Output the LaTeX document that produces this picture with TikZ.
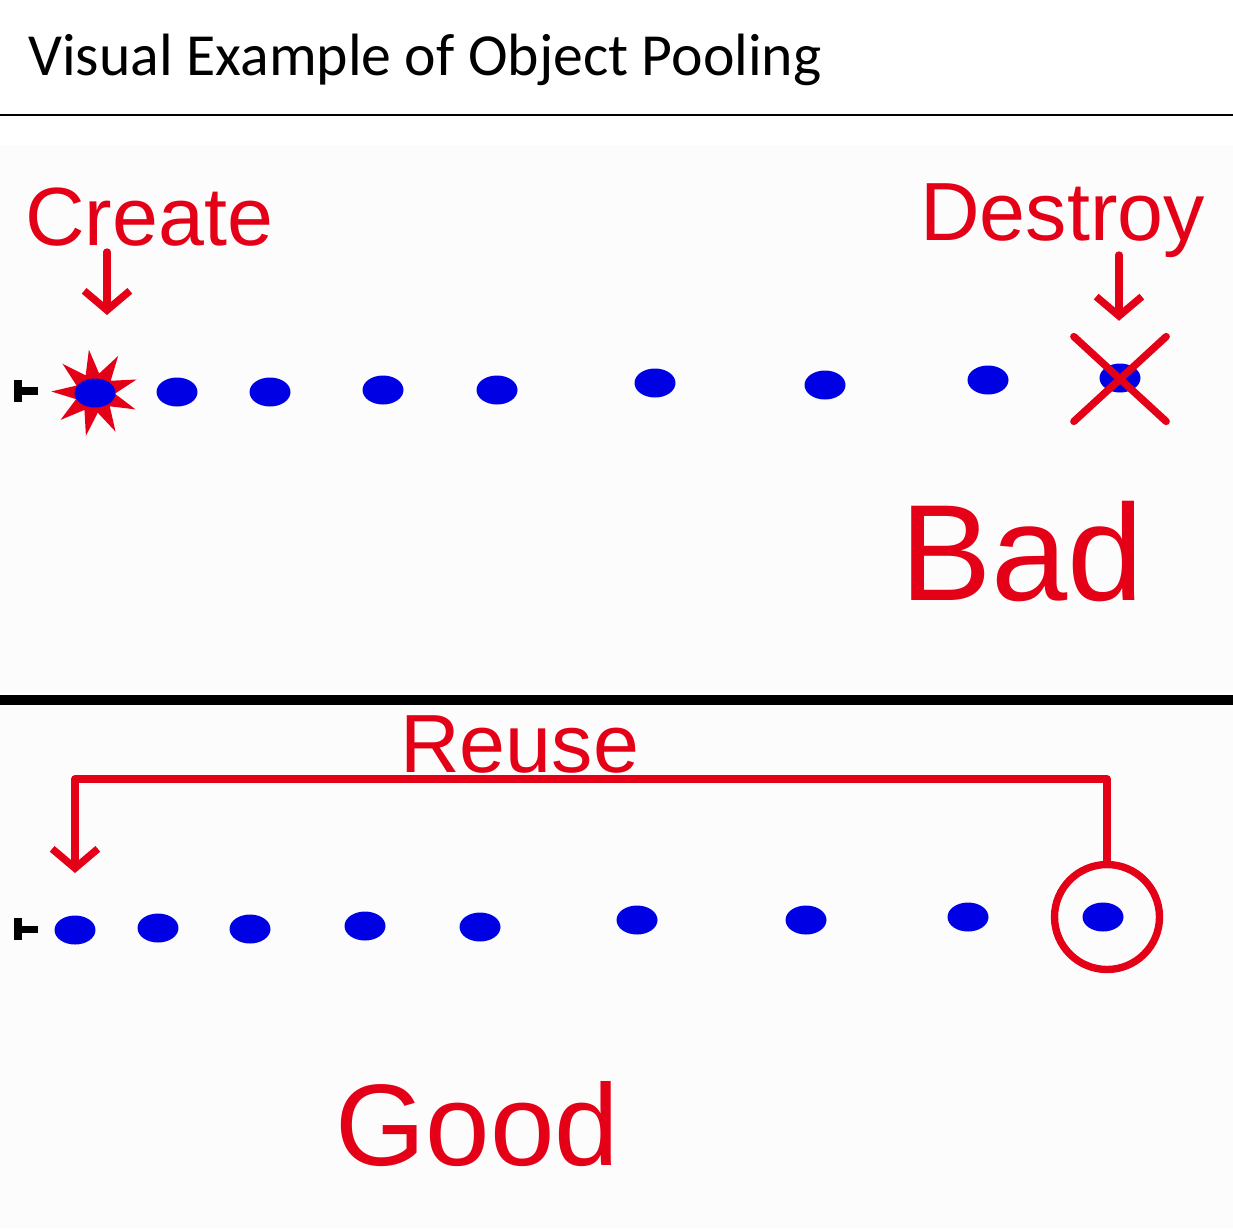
\documentclass[tikz,border=0pt]{standalone}
\usepackage{fontspec}
\setmainfont{Carlito}
\newfontfamily\handfont{Liberation Sans}
\usetikzlibrary{arrows.meta,shapes.geometric,shapes.misc}

\definecolor{pen}{RGB}{228,0,22}
\definecolor{ink}{RGB}{0,0,228}
\definecolor{board}{RGB}{252,252,252}

\tikzset{
  dot/.style={ellipse,fill=ink,inner sep=0pt,minimum width=0.82cm,minimum height=0.58cm},
  scrawl/.style={text=pen,inner sep=0pt,anchor=base west,font=\handfont\fontsize{#1}{#1}\selectfont},
  stroke/.style={draw=pen,line width=4.2pt,line cap=round,line join=round},
}

\begin{document}
\begin{tikzpicture}[x=0.02cm,y=-0.02cm,>={Straight Barb[length=11pt,width=26pt]}]

                \useasboundingbox (0,0) rectangle (1233,1228);
                \fill[white] (0,0) rectangle (1233,1228);
                \fill[board] (0,145) rectangle (1233,693);
                \fill[board] (0,706) rectangle (1233,1228);

                \node[anchor=base west,inner sep=0pt,font=\fontsize{34}{40}\selectfont] (title) at (28,75) {Visual Example of Object Pooling};
                \draw[line width=0.8pt] (0,115) -- (1233,115);
                \draw[line width=5.7pt] (0,700) -- (1233,700);

                % bad: create and destroy
                \node[scrawl=47] (create) at (25,245) {Create};
                \node[scrawl=47] (destroy) at (920,240) {Destroy};
                \node[scrawl=78] (bad) at (900,600) {Bad};

                \node[star,star points=9,star point ratio=2.2,minimum size=1.75cm,fill=pen,inner sep=0pt,rotate=8] (burst) at (95,393) {};

                \foreach \n/\x/\y in {1/95/393, 2/177/392, 3/270/392, 4/383/390, 5/497/390, 6/655/383, 7/825/385, 8/988/380, 9/1120/378}
                    {
                    \node[dot] (b\n) at (\x,\y) {};
                    }

                \node[cross out,stroke,minimum width=1.7cm,minimum height=1.55cm] (cross) at (1120,379) {};

                \coordinate (cin) at (107,252);
                \coordinate (dout) at (1119,255);
                \path[->] (cin) edge[stroke,shorten >=19pt] (cin |- burst.north);
                \path[->] (dout) edge[stroke,shorten >=9pt] (dout |- cross.north);

                \draw[line width=4pt] (18,380) -- (18,402) (18,391) -- (38,391);

                % good: reuse
                \node[scrawl=47] (reuse) at (400,772) {Reuse};
                \node[scrawl=66] (good) at (335,1165) {Good};

                \foreach \n/\x/\y in {1/75/930, 2/158/928, 3/250/929, 4/365/926, 5/480/927, 6/637/920, 7/806/920, 8/968/917, 9/1103/917}
                    {
                    \node[dot] (g\n) at (\x,\y) {};
                    }

                \node[circle,stroke,minimum size=2.1cm,inner sep=0pt] (ring) at (1107,917) {};

                \coordinate (back) at (1114,779);
                \draw[stroke,->,shorten >=24pt] (ring.north) -- (ring.north |- back) -| (g1);

                \draw[line width=4pt] (18,918) -- (18,940) (18,929) -- (38,929);

            \end{tikzpicture}
\end{document}
